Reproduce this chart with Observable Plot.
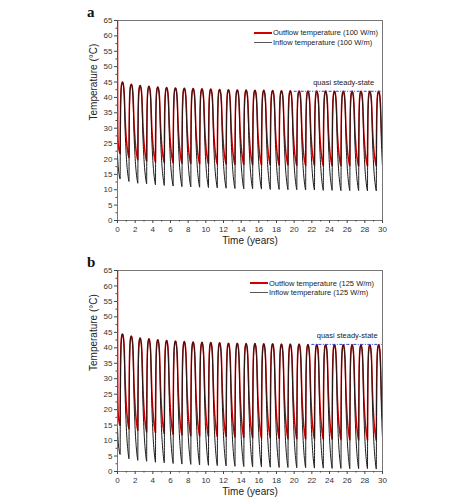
<!DOCTYPE html>
<html><head><meta charset="utf-8">
<script src="https://cdn.jsdelivr.net/npm/d3@7"></script>
<script src="https://cdn.jsdelivr.net/npm/@observablehq/plot@0.6"></script>
<style>
body{margin:0;background:#fff;overflow:hidden}
#wrap{position:relative;width:474px;height:497px;overflow:hidden;font-family:"Liberation Sans",Arial,sans-serif;background:#fff}
.panel{position:absolute;left:0}
.letter{position:absolute;font-family:"Liberation Serif","DejaVu Serif",serif;font-weight:bold;font-size:15px;line-height:15px;color:#111}
.legend{position:absolute;font-size:7.5px;color:#222}
.legend div{display:flex;align-items:center;height:9.5px;white-space:nowrap;color:#222}
.legend span.sw{display:inline-block;width:18px;margin-right:1px}
</style></head><body><div id="wrap"></div>
<script>
// ---- data ----
const cycleStarts = [0,1,2,3,4,5,6,7,8,9,10,11,12,13,14,15,16,17,18,19,20,21,22,23,24,25,26,27,28,29];
const risePhase = 0.3; // sharp rise of each yearly cycle happens at year + 0.3
// shape of one yearly cycle: [phase, fraction between trough and peak]
const cycleShape = [[0.00,0.00],[0.015,0.32],[0.04,0.64],[0.08,0.84],[0.14,0.95],[0.21,0.99],[0.27,1.00],
  [0.34,0.98],[0.41,0.93],[0.47,0.83],[0.52,0.67],[0.57,0.50],[0.64,0.35],[0.72,0.22],[0.81,0.12],[0.90,0.05],[0.96,0.015]];
const peakPhase = 0.27;

// panel a (100 W/m)
const peakA = [45.0,44.3,43.9,43.6,43.4,43.2,43.1,43.0,42.9,42.8,42.7,42.6,42.5,42.45,42.4,42.35,42.3,42.25,42.2,42.15,42.1,42.1,42.05,42.05,42.0,42.0,42.0,42.0,42.0,42.0];
const outMinA = [21.7,20.4,19.7,19.3,19.0,18.8,18.7,18.6,18.5,18.4,18.4,18.3,18.3,18.2,18.2,18.1,18.1,18.0,18.0,18.0,17.9,17.9,17.9,17.8,17.8,17.8,17.8,17.7,17.7,17.7,17.7];
const inMinA = [13.5,12.7,12.1,11.9,11.6,11.4,11.2,11.0,10.9,10.8,10.7,10.6,10.5,10.4,10.3,10.3,10.2,10.1,10.1,10.0,10.0,9.9,9.9,9.8,9.8,9.7,9.7,9.7,9.6,9.6,9.6];
const outStartA = [[0,65],[0.01,45],[0.03,30],[0.08,25],[0.18,22.8]];
const inStartA = [[0,21],[0.08,17.5],[0.18,15]];
const steadyA = {value: 42.0, from: 20, to: 30};
const noteA = {x: 25.6, y: 44.9, text: "quasi steady-state"};

// panel b (125 W/m)
const peakB = [44.5,43.8,43.2,42.9,42.6,42.4,42.2,42.0,41.9,41.8,41.7,41.6,41.5,41.5,41.4,41.4,41.3,41.3,41.2,41.2,41.2,41.1,41.1,41.1,41.1,41.0,41.0,41.0,41.0,41.0];
const outMinB = [14.9,13.8,13.3,12.8,12.5,12.2,12.0,11.8,11.6,11.5,11.4,11.3,11.2,11.1,11.0,10.9,10.8,10.8,10.7,10.6,10.6,10.5,10.5,10.4,10.4,10.3,10.3,10.2,10.2,10.1,10.1];
const inMinB = [5.5,4.1,3.6,3.3,3.0,2.8,2.6,2.4,2.3,2.1,2.0,1.9,1.8,1.7,1.6,1.5,1.5,1.4,1.3,1.3,1.2,1.2,1.1,1.1,1.0,1.0,0.9,0.9,0.9,0.8,0.8];
const outStartB = [[0,65],[0.01,42],[0.03,25],[0.08,18.5],[0.18,16]];
const inStartB = [[0,14],[0.08,9.5],[0.18,7]];
const steadyB = {value: 41.1, from: 22, to: 30};
const noteB = {x: 26.0, y: 44.0, text: "quasi steady-state"};

const xMajor = [0,2,4,6,8,10,12,14,16,18,20,22,24,26,28,30];
const xMinor = [1,3,5,7,9,11,13,15,17,19,21,23,25,27,29];
const yMajor = [0,5,10,15,20,25,30,35,40,45,50,55,60,65];
const yMinor = [2.5,7.5,12.5,17.5,22.5,27.5,32.5,37.5,42.5,47.5,52.5,57.5,62.5];

const panels = [
  {letter: "a", top: 0, mb: 30, peak: peakA, outMin: outMinA, inMin: inMinA, outStart: outStartA, inStart: inStartA,
   steady: steadyA, note: noteA, legend: ["Outflow temperature (100 W/m)", "Inflow temperature (100 W/m)"], legLeft: 254, legTop: 28},
  {letter: "b", top: 250, mb: 29, peak: peakB, outMin: outMinB, inMin: inMinB, outStart: outStartB, inStart: inStartB,
   steady: steadyB, note: noteB, legend: ["Outflow temperature (125 W/m)", "Inflow temperature (125 W/m)"], legLeft: 250, legTop: 278.5}
];

function build(start, mins, peaks) {
  const pts = start.map(([t, v]) => ({t, v}));
  cycleStarts.forEach((k, i) => {
    const t0 = k + risePhase;
    for (const [p, f] of cycleShape) {
      const lo = p <= peakPhase ? mins[i] : mins[i + 1];
      pts.push({t: t0 + p, v: lo + f * (peaks[i] - lo)});
    }
  });
  pts.push({t: cycleStarts[cycleStarts.length - 1] + 1 + risePhase, v: mins[mins.length - 1]});
  return pts;
}

const wrap = document.getElementById("wrap");
for (const P of panels) {
  const outflow = build(P.outStart, P.outMin, P.peak);
  const inflow = build(P.inStart, P.inMin, P.peak);
  const chart = Plot.plot({
    width: 474, height: 250,
    marginTop: 20, marginBottom: P.mb, marginLeft: 117, marginRight: 92,
    x: {domain: [0, 30]},
    y: {domain: [0, 65]},
    style: {fontFamily: "'Liberation Sans', Arial, sans-serif", fontSize: "8px", color: "#333", background: "transparent"},
    marks: [
      Plot.line(outflow, {x: "t", y: "v", stroke: "#d00000", strokeWidth: 1.5, curve: "monotone-x", clip: true}),
      Plot.line(inflow, {x: "t", y: "v", stroke: "#1a1a1a", strokeWidth: 1.0, curve: "monotone-x", clip: true}),
      Plot.ruleY([P.steady], {y: "value", x1: "from", x2: "to", stroke: "#3344dd", strokeWidth: 1, strokeDasharray: "3,1.5,1,1.5"}),
      Plot.text([P.note], {x: "x", y: "y", text: "text", fontSize: 7.5, fill: "#222"}),
      Plot.frame({stroke: "#555", strokeWidth: 0.8}),
      Plot.axisX(xMajor, {tickSize: 3, tickPadding: 3, label: null, stroke: "#444"}),
      Plot.axisX(xMinor, {tickSize: 1.5, tickFormat: () => "", label: null, stroke: "#444"}),
      Plot.axisY(yMajor, {tickSize: 3, tickPadding: 2, label: null, stroke: "#444"}),
      Plot.axisY(yMinor, {tickSize: 1.5, tickFormat: () => "", label: null, stroke: "#444"}),
      Plot.text(["Time (years)"], {frameAnchor: "bottom", dy: 23, fontSize: 10, fill: "#222"}),
      Plot.text(["Temperature (°C)"], {frameAnchor: "left", dx: -24, rotate: -90, fontSize: 10, fill: "#222"})
    ]
  });
  chart.classList.add("panel");
  chart.style.top = P.top + "px";
  wrap.appendChild(chart);

  const L = document.createElement("div");
  L.className = "letter";
  L.textContent = P.letter;
  L.style.left = "87px";
  L.style.top = (P.top + 5) + "px";
  wrap.appendChild(L);

  const leg = document.createElement("div");
  leg.className = "legend";
  leg.style.left = P.legLeft + "px";
  leg.style.top = P.legTop + "px";
  leg.innerHTML = `<div><span class="sw" style="border-top:2px solid #d00000"></span>${P.legend[0]}</div>` +
                  `<div><span class="sw" style="border-top:1px solid #555"></span>${P.legend[1]}</div>`;
  wrap.appendChild(leg);
}
</script></body></html>
